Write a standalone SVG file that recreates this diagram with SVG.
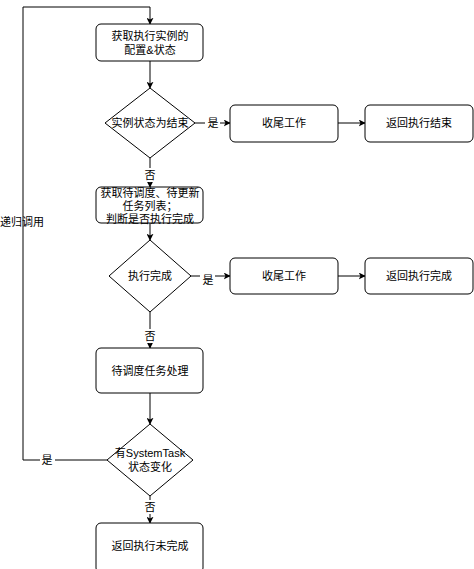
<svg xmlns="http://www.w3.org/2000/svg" width="474" height="569" viewBox="0 0 474 569">
<style>
.box{fill:#fff;stroke:#000;stroke-width:1}
.t{font-family:"Liberation Sans","Noto Sans CJK SC",sans-serif;font-size:11px;fill:#000;text-anchor:middle;dominant-baseline:central}
.e{fill:none;stroke:#000;stroke-width:1}
.lb{fill:#fff}
</style>
<defs>
<marker id="ar" viewBox="0 0 10 10" refX="9" refY="5" markerWidth="7" markerHeight="7" markerUnits="userSpaceOnUse" orient="auto">
<path d="M0,0 L10,5 L0,10 L2.5,5 Z" fill="#000"/>
</marker>
</defs>
<rect width="474" height="569" fill="#fff"/>
<g id="connectors">
<path class="e" d="M107,460 H23 V7 H150 V24" marker-end="url(#ar)"/>
<path class="e" d="M150,61 V88" marker-end="url(#ar)"/>
<path class="e" d="M195,123 H230" marker-end="url(#ar)"/>
<path class="e" d="M338,123 H365" marker-end="url(#ar)"/>
<path class="e" d="M150,158 V187" marker-end="url(#ar)"/>
<path class="e" d="M150,223 V240" marker-end="url(#ar)"/>
<path class="e" d="M191,276 H230" marker-end="url(#ar)"/>
<path class="e" d="M338,276 H365" marker-end="url(#ar)"/>
<path class="e" d="M150,312 V348" marker-end="url(#ar)"/>
<path class="e" d="M150,393 V424" marker-end="url(#ar)"/>
<path class="e" d="M150,496 V523" marker-end="url(#ar)"/>
<rect class="lb" x="205" y="116" width="15" height="14"/>
<text class="t" x="213" y="123">是</text>
<rect class="lb" x="143" y="168" width="14" height="14"/>
<text class="t" x="150" y="175">否</text>
<rect class="lb" x="200" y="273" width="15" height="14"/>
<text class="t" x="208" y="280">是</text>
<rect class="lb" x="143" y="329" width="14" height="14"/>
<text class="t" x="150" y="336">否</text>
<rect class="lb" x="40" y="453" width="15" height="14"/>
<text class="t" x="47" y="460">是</text>
<rect class="lb" x="143" y="500" width="14" height="14"/>
<text class="t" x="150" y="507">否</text>
<text class="t" x="22" y="222">递归调用</text>
</g>
<g id="n1"><rect class="box" x="96" y="24" width="107" height="37" rx="5"/><text class="t" x="150" y="36">获取执行实例的</text><text class="t" x="150" y="50">配置&amp;状态</text></g>
<g id="d1"><path class="box" d="M150,88 L195,123 L150,158 L105,123 Z"/><text class="t" x="150" y="123">实例状态为结束</text></g>
<g id="n2"><rect class="box" x="230" y="105" width="108" height="37" rx="5"/><text class="t" x="284" y="123">收尾工作</text></g>
<g id="n3"><rect class="box" x="365" y="105" width="108" height="37" rx="5"/><text class="t" x="419" y="123">返回执行结束</text></g>
<g id="n4"><rect class="box" x="96" y="187" width="107" height="36" rx="5"/><text class="t" x="150" y="193">获取待调度、待更新</text><text class="t" x="150" y="206">任务列表；</text><text class="t" x="150" y="219">判断是否执行完成</text></g>
<g id="d2"><path class="box" d="M150,240 L191,276 L150,312 L109,276 Z"/><text class="t" x="150" y="276">执行完成</text></g>
<g id="n5"><rect class="box" x="230" y="258" width="108" height="36" rx="5"/><text class="t" x="284" y="276">收尾工作</text></g>
<g id="n6"><rect class="box" x="365" y="258" width="108" height="36" rx="5"/><text class="t" x="419" y="276">返回执行完成</text></g>
<g id="n7"><rect class="box" x="96" y="348" width="107" height="45" rx="5"/><text class="t" x="150" y="371">待调度任务处理</text></g>
<g id="d3"><path class="box" d="M150,424 L193,460 L150,496 L107,460 Z"/><text class="t" x="150" y="453">有SystemTask</text><text class="t" x="150" y="467">状态变化</text></g>
<g id="n8"><rect class="box" x="96" y="523" width="107" height="50" rx="5"/><text class="t" x="150" y="546">返回执行未完成</text></g>
</svg>
